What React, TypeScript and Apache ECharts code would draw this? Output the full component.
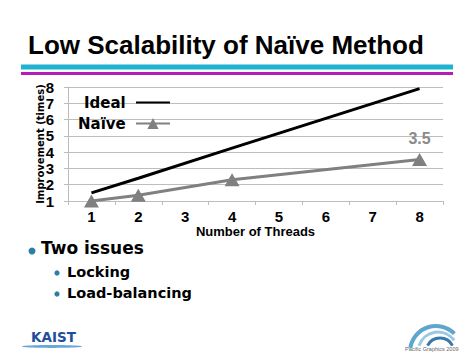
import React, { useEffect, useRef } from "react";
import * as echarts from "echarts";

const threads = ["1", "2", "3", "4", "5", "6", "7", "8"];
const idealValues: (number | null)[] = [1.5, 2.4, null, 4.25, null, null, null, 7.9];
const naiveValues: (number | null)[] = [1.0, 1.35, null, 2.3, null, null, null, 3.55];
const yTicks = [1, 2, 3, 4, 5, 6, 7, 8];
const titleText = "Low Scalability of Naïve Method";
const bullets = ["Two issues", "Locking", "Load-balancing"];

export default function App() {
  const ref = useRef<HTMLDivElement>(null);
  useEffect(() => {
    if (!ref.current) return;
    const chart = echarts.init(ref.current, null, { renderer: "svg" });
    const arial = "'Liberation Sans', Arial, sans-serif";
    const verdana = "'DejaVu Sans', Verdana, sans-serif";
    chart.setOption({
      animation: false,
      backgroundColor: "#ffffff",
      grid: { left: 68, right: 31, top: 87, bottom: 154, containLabel: false },
      legend: {
        show: true,
        orient: "vertical",
        left: 78,
        top: 95,
        padding: 0,
        align: "right",
        itemWidth: 34,
        itemHeight: 14,
        itemGap: 6,
        formatter: (name: string) => name + " ",
        textStyle: { fontFamily: verdana, fontWeight: "bold", fontSize: 15, color: "#000" },
        data: [
          { name: "Ideal", itemStyle: { opacity: 0 } },
          { name: "Naïve" },
        ],
      },
      xAxis: {
        type: "category",
        data: threads,
        boundaryGap: true,
        name: "Number of Threads",
        nameLocation: "middle",
        nameGap: 24,
        nameTextStyle: { fontFamily: arial, fontWeight: "bold", fontSize: 13, color: "#000" },
        axisLine: { lineStyle: { color: "#bdbdbd", width: 1 } },
        axisTick: { show: true, length: 4, lineStyle: { color: "#bdbdbd" } },
        axisLabel: { fontFamily: arial, fontWeight: "bold", fontSize: 15, color: "#000", margin: 8 },
      },
      yAxis: {
        type: "value",
        min: 1,
        max: 8,
        interval: 1,
        name: "Improvement (times)",
        nameLocation: "middle",
        nameMoveOverlap: false,
        nameGap: 23,
        nameRotate: 90,
        nameTextStyle: { fontFamily: verdana, fontWeight: "bold", fontSize: 10, color: "#000" },
        axisLine: { show: true, lineStyle: { color: "#bdbdbd" } },
        axisTick: { show: true, length: 4, lineStyle: { color: "#bdbdbd" } },
        axisLabel: {
          fontFamily: arial,
          fontWeight: "bold",
          fontSize: 15,
          color: "#000",
          margin: 14,
          formatter: (v: number) => (yTicks.includes(v) ? String(v) : ""),
        },
        splitLine: { lineStyle: { color: "#bdbdbd", width: 1 } },
      },
      series: [
        {
          name: "Ideal",
          type: "line",
          data: idealValues,
          connectNulls: true,
          symbol: "none",
          lineStyle: { color: "#000", width: 3 },
          itemStyle: { color: "#000" },
        },
        {
          name: "Naïve",
          type: "line",
          data: naiveValues,
          connectNulls: true,
          symbol: "triangle",
          symbolSize: [15, 13],
          lineStyle: { color: "#808080", width: 3 },
          itemStyle: { color: "#808080" },
          label: {
            show: true,
            position: "top",
            distance: 6,
            fontFamily: arial,
            fontWeight: "bold",
            fontSize: 16,
            color: "#8a8a8a",
            formatter: (p: any) => (p.dataIndex === 7 ? "3.5" : ""),
          },
        },
      ],
      graphic: [
        {
          type: "text",
          left: 28,
          top: 32,
          style: { text: titleText, fontFamily: arial, fontWeight: "bold", fontSize: 26, fill: "#000" },
        },
        { type: "rect", shape: { x: 21, y: 64.5, width: 432, height: 5 }, style: { fill: "#1fb2d2" } },
        { type: "rect", shape: { x: 21, y: 72, width: 432, height: 3 }, style: { fill: "#b41cbc" } },
        { type: "circle", shape: { cx: 32, cy: 251, r: 3.5 }, style: { fill: "#2b7fa3" } },
        {
          type: "text",
          left: 41,
          top: 239,
          style: { text: bullets[0], fontFamily: verdana, fontWeight: "bold", fontSize: 17, fill: "#000" },
        },
        { type: "circle", shape: { cx: 57, cy: 273, r: 2.6 }, style: { fill: "#2b7fa3" } },
        {
          type: "text",
          left: 67,
          top: 264,
          style: { text: bullets[1], fontFamily: verdana, fontWeight: "bold", fontSize: 14.5, fill: "#000" },
        },
        { type: "circle", shape: { cx: 57, cy: 294, r: 2.6 }, style: { fill: "#2b7fa3" } },
        {
          type: "text",
          left: 67,
          top: 285,
          style: { text: bullets[2], fontFamily: verdana, fontWeight: "bold", fontSize: 14.5, fill: "#000" },
        },
        {
          type: "text",
          left: 31,
          top: 330,
          style: { text: "KAIST", fontFamily: verdana, fontWeight: "bold", fontSize: 13.5, fill: "#1f4e9c" },
        },
        { type: "ellipse", shape: { cx: 52, cy: 346.5, rx: 30, ry: 1.4 }, style: { fill: "#6aa5dc" } },
        { type: "arc", shape: { cx: 436, cy: 352, r: 26, startAngle: Math.PI * 1.05, endAngle: Math.PI * 1.75 }, style: { stroke: "#5fa6cf", lineWidth: 4, fill: "none" } },
        { type: "arc", shape: { cx: 438, cy: 352, r: 20, startAngle: Math.PI * 1.1, endAngle: Math.PI * 1.8 }, style: { stroke: "#9bc8e2", lineWidth: 3, fill: "none" } },
        { type: "arc", shape: { cx: 440, cy: 352, r: 14, startAngle: Math.PI * 1.15, endAngle: Math.PI * 1.85 }, style: { stroke: "#3a78a8", lineWidth: 3, fill: "none" } },
        {
          type: "text",
          left: 405,
          top: 346,
          style: { text: "Pacific Graphics 2009", fontFamily: arial, fontSize: 5.5, fill: "#666" },
        },
      ],
    });
    return () => chart.dispose();
  }, []);
  return (
    <div
      ref={ref}
      style={{ position: "fixed", left: 0, top: 0, width: 474, height: 355 }}
    />
  );
}
